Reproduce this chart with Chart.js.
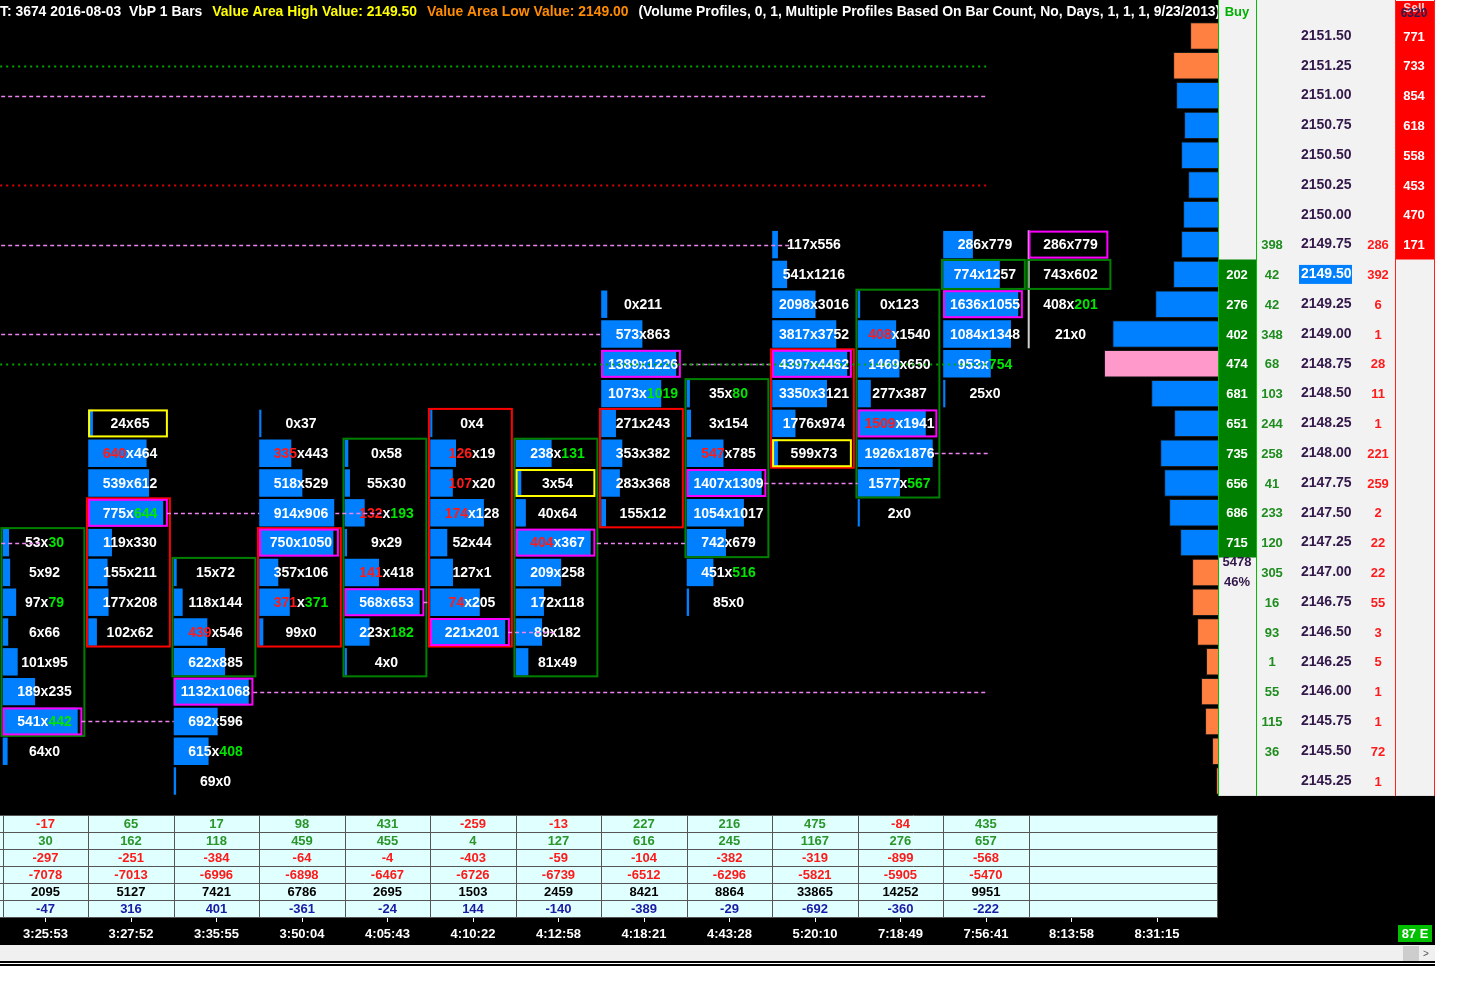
<!DOCTYPE html>
<html>
<head>
<meta charset="utf-8">
<title>VbP footprint</title>
<script src="https://cdn.jsdelivr.net/npm/chart.js@4.4.1/dist/chart.umd.min.js"></script>
<style>
  html, body { margin: 0; padding: 0; background: #fff; overflow: hidden; }
  #wrap { width: 1477px; height: 981px; }
</style>
</head>
<body>
<div id="wrap"><canvas id="fpChart" width="1477" height="981"></canvas></div>
<script>
const barTimes = ['3:25:53', '3:27:52', '3:35:55', '3:50:04', '4:05:43', '4:10:22', '4:12:58',
  '4:18:21', '4:43:28', '5:20:10', '7:18:49', '7:56:41', '8:13:58', '8:31:15'];

// footprint of each bar: highest traded price, then bid x ask per level going down
const barTop = [2147.25, 2148.25, 2147.00, 2148.25, 2148.00, 2148.25, 2148.00, 2149.25, 2148.50, 2149.75, 2149.25, 2149.75, 2149.75];
const barBids = [
  [53, 5, 97, 6, 101, 189, 541, 64],
  [24, 640, 539, 775, 119, 155, 177, 102],
  [15, 118, 439, 622, 1132, 692, 615, 69],
  [0, 335, 518, 914, 750, 357, 371, 99],
  [0, 55, 132, 9, 141, 568, 223, 4],
  [0, 126, 107, 174, 52, 127, 74, 221],
  [238, 3, 40, 404, 209, 172, 89, 81],
  [0, 573, 1389, 1073, 271, 353, 283, 155],
  [35, 3, 547, 1407, 1054, 742, 451, 85],
  [117, 541, 2098, 3817, 4397, 3350, 1776, 599],
  [0, 408, 1469, 277, 1509, 1926, 1577, 2],
  [286, 774, 1636, 1084, 953, 25],
  [286, 743, 408, 21]
];
const barAsks = [
  [30, 92, 79, 66, 95, 235, 442, 0],
  [65, 464, 612, 644, 330, 211, 208, 62],
  [72, 144, 546, 885, 1068, 596, 408, 0],
  [37, 443, 529, 906, 1050, 106, 371, 0],
  [58, 30, 193, 29, 418, 653, 182, 0],
  [4, 19, 20, 128, 44, 1, 205, 201],
  [131, 54, 64, 367, 258, 118, 182, 49],
  [211, 863, 1226, 1019, 243, 382, 368, 12],
  [80, 154, 785, 1309, 1017, 679, 516, 0],
  [556, 1216, 3016, 3752, 4462, 3121, 974, 73],
  [123, 1540, 650, 387, 1941, 1876, 567, 0],
  [779, 1257, 1055, 1348, 754, 0],
  [779, 602, 201, 0]
];
const bidImbalance = [[], [1], [2], [1, 6], [2, 4], [1, 2, 3, 6], [3], [], [2], [], [1, 4], [], []];
const askImbalance = [[0, 2, 6], [3], [6], [6], [2, 6], [], [0], [3], [0, 6], [], [6], [4], [2]];
const bodyRows = [[0, 6], [3, 7], [0, 3], [4, 7], [0, 7], [0, 7], [0, 7], [4, 7], [0, 5], [4, 7], [0, 6], [1, 1], [1, 1]];
const barUp = [true, false, true, false, true, false, true, false, true, false, true, true, true];
const pocRow = [6, 3, 4, 4, 5, 7, 3, 2, 3, 4, 4, 2, 0];
const markRow = [null, 0, null, null, null, null, 1, null, null, 7, null, null, null];

// naked POC lines (price, from bar, to bar)
const pocLinePrice = [2151.00, 2149.75, 2149.00, 2147.25, 2145.75, 2147.50, 2147.50, 2146.00, 2146.75, 2146.50, 2147.25, 2148.75, 2147.75, 2148.00];
const pocLineFrom = [-0.6, -0.6, -0.6, -0.6, 0.42, 1.42, 3.39, 2.43, 4.42, 5.41, 6.45, 7.45, 8.41, 10.4];
const pocLineTo = [11.02, 8.71, 6.52, -0.03, 1.5, 2.5, 3.95, 11.02, 4.5, 5.98, 7.5, 8.5, 9.5, 11.02];
const vaLinePrice = [2151.25, 2150.25, 2148.75];
const vaLineUp = [true, false, true];

// session volume profile
const profilePrices = [2151.50, 2151.25, 2151.00, 2150.75, 2150.50, 2150.25, 2150.00, 2149.75, 2149.50,
  2149.25, 2149.00, 2148.75, 2148.50, 2148.25, 2148.00, 2147.75, 2147.50, 2147.25, 2147.00, 2146.75,
  2146.50, 2146.25, 2146.00, 2145.75, 2145.50, 2145.25];
const profileVolume = [3750, 6030, 5630, 4560, 4960, 4020, 4690, 4960, 6030, 8440, 14200, 15320, 8980,
  5900, 7770, 7240, 6570, 5090, 3480, 3480, 2810, 1610, 2280, 1740, 800, 270];
const profileVA = [2147.25, 2151.00];
const profilePoc = 2148.75;

// ladder columns beside the prices (same rows as profilePrices)
const ladderBuy = [null, null, null, null, null, null, null, null, 202, 276, 402, 474, 681, 651, 735, 656, 686, 715,
  null, null, null, null, null, null, null, null];
const ladderAsk = [null, null, null, null, null, null, null, 398, 42, 42, 348, 68, 103, 244, 258, 41, 233, 120,
  305, 16, 93, 1, 55, 115, 36, null];
const ladderBid = [null, null, null, null, null, null, null, 286, 392, 6, 1, 28, 11, 1, 221, 259, 2, 22,
  22, 55, 3, 5, 1, 1, 72, 1];
const ladderSell = [771, 733, 854, 618, 558, 453, 470, 171, null, null, null, null, null, null, null, null, null, null,
  null, null, null, null, null, null, null, null];
const buyTotal = '5478';
const buyPct = '46%';
const sellTotal = '6320';
const lastPrice = 2149.50;

// statistics table under the bars
const deltaRow = [-17, 65, 17, 98, 431, -259, -13, 227, 216, 475, -84, 435];
const maxDeltaRow = [30, 162, 118, 459, 455, 4, 127, 616, 245, 1167, 276, 657];
const minDeltaRow = [-297, -251, -384, -64, -4, -403, -59, -104, -382, -319, -899, -568];
const cumDeltaRow = [-7078, -7013, -6996, -6898, -6467, -6726, -6739, -6512, -6296, -5821, -5905, -5470];
const volumeRow = [2095, 5127, 7421, 6786, 2695, 1503, 2459, 8421, 8864, 33865, 14252, 9951];
const deltaChangeRow = [-47, 316, 401, -361, -24, 144, -140, -389, -29, -692, -360, -222];

const titleParts = [
  ['T: 3674 2016-08-03  VbP 1 Bars', '#ffffff'],
  ['Value Area High Value: 2149.50', '#ffff00'],
  ['Value Area Low Value: 2149.00', '#ff8c00'],
  ['(Volume Profiles, 0, 1, Multiple Profiles Based On Bar Count, No, Days, 1, 1, 1, 9/23/2013)', '#ffffff']
];

const TICK = 0.25;
const FONT = '"Liberation Sans", Arial, sans-serif';
const CELL_MAX = 0.877;
const COLORS = {
  cell: '#0080ff', up: '#008000', down: '#ff0000', poc: '#ff00ff', mark: '#ffff00',
  text: '#ffffff', hiBid: '#ff1a1a', hiAsk: '#00e600',
  profileOut: '#ff8040', profilePoc: '#ff99cc',
  pocLine: '#ee82ee', vaUp: '#00a800', vaDown: '#e00000',
  panel: '#f2f2f2', price: '#33184a', buyFill: '#008000', sellFill: '#ff0000',
  askNum: '#1e8c1e', bidNum: '#ff1a1a', table: '#e0ffff', grid: '#555555'
};

function buildCellBars() {
  const data = [];
  // the last bar is still forming and gets no bars
  for (let i = 0; i < barBids.length - 1; i++) {
    const totals = barBids[i].map((b, j) => b + barAsks[i][j]);
    const most = Math.max(...totals);
    totals.forEach((t, j) => {
      const len = Math.max(t / most * CELL_MAX, 0.025);
      data.push({ y: barTop[i] - TICK * j, x: [i - 0.5, i - 0.5 + len] });
    });
  }
  return data;
}

function profileColors() {
  return profilePrices.map(p => {
    if (p === profilePoc) return COLORS.profilePoc;
    if (p < profileVA[0] || p > profileVA[1]) return COLORS.profileOut;
    return COLORS.cell;
  });
}

function drawBox(ctx, x, y, i, top, bot, x0, x1, pad, color) {
  const l = x.getPixelForValue(i + x0);
  const r = x.getPixelForValue(i + x1);
  const t = y.getPixelForValue(top + pad);
  const b = y.getPixelForValue(bot - pad);
  ctx.strokeStyle = color;
  ctx.lineWidth = 2;
  ctx.strokeRect(l, t, r - l, b - t);
}

function drawCellText(ctx, cx, cy, parts) {
  const w = parts.reduce((s, p) => s + ctx.measureText(p[0]).width, 0);
  let tx = cx - w / 2;
  parts.forEach(([t, col]) => {
    ctx.fillStyle = col;
    ctx.fillText(t, tx, cy);
    tx += ctx.measureText(t).width;
  });
}

function hLine(ctx, x, y, price, from, to, color, width, dash) {
  const py = Math.round(y.getPixelForValue(price)) + 0.5;
  ctx.strokeStyle = color;
  ctx.lineWidth = width;
  ctx.setLineDash(dash);
  ctx.beginPath();
  ctx.moveTo(x.getPixelForValue(from), py);
  ctx.lineTo(x.getPixelForValue(to), py);
  ctx.stroke();
}

const footprintPlugin = {
  id: 'footprint',
  beforeDraw(chart) {
    const { ctx, chartArea: a, scales: { y } } = chart;
    const half = (y.getPixelForValue(y.min) - y.getPixelForValue(y.min + TICK)) / 2;
    const sellL = a.right + 177, sellR = a.right + 216;
    const panelBottom = y.getPixelForValue(profilePrices[profilePrices.length - 1]) + half;
    ctx.save();
    ctx.fillStyle = '#ffffff';
    ctx.fillRect(0, 0, chart.width, chart.height);
    ctx.fillStyle = '#000000';
    ctx.fillRect(0, 0, sellR + 1, 945);
    ctx.fillStyle = COLORS.panel;
    ctx.fillRect(a.right, 0, sellR - a.right, panelBottom);

    // buy / sell shaded cells
    const buyRows = profilePrices.filter((p, k) => ladderBuy[k] !== null);
    ctx.fillStyle = COLORS.buyFill;
    ctx.fillRect(a.right + 1, y.getPixelForValue(buyRows[0]) - half, 37,
      y.getPixelForValue(buyRows[buyRows.length - 1]) - y.getPixelForValue(buyRows[0]) + 2 * half);
    const sellRows = profilePrices.filter((p, k) => ladderSell[k] !== null);
    ctx.fillStyle = COLORS.sellFill;
    ctx.fillRect(sellL, 1, sellR - sellL, y.getPixelForValue(sellRows[sellRows.length - 1]) + half - 1);

    // last price highlight
    const ly = y.getPixelForValue(lastPrice);
    ctx.fillStyle = COLORS.cell;
    ctx.fillRect(a.right + 81, ly - 9.5, 53, 19);

    ctx.strokeStyle = '#00c000';
    ctx.lineWidth = 1;
    [a.right + 0.5, a.right + 38.5].forEach(lx => {
      ctx.beginPath(); ctx.moveTo(lx, 0); ctx.lineTo(lx, panelBottom); ctx.stroke();
    });
    ctx.strokeStyle = '#ff2020';
    [sellL + 0.5, sellR + 0.5].forEach(lx => {
      ctx.beginPath(); ctx.moveTo(lx, 0); ctx.lineTo(lx, panelBottom); ctx.stroke();
    });

    ctx.fillStyle = COLORS.table;
    ctx.fillRect(0, a.bottom, a.right, 102);
    ctx.restore();
  },
  afterDatasetsDraw(chart) {
    const { ctx, chartArea: a, scales: { x, y } } = chart;
    const last = barBids.length - 1;
    ctx.save();

    // forming bar: thin marker instead of volume bars
    ctx.strokeStyle = '#d0d0d0';
    ctx.lineWidth = 2;
    ctx.beginPath();
    ctx.moveTo(x.getPixelForValue(last - 0.5), y.getPixelForValue(barTop[last] + 0.12));
    ctx.lineTo(x.getPixelForValue(last - 0.5), y.getPixelForValue(barTop[last] - TICK * (barBids[last].length - 1) - 0.12));
    ctx.stroke();

    barBids.forEach((bids, i) => {
      const [r0, r1] = bodyRows[i];
      drawBox(ctx, x, y, i, barTop[i] - TICK * r0, barTop[i] - TICK * r1, -0.515, 0.455, 0.1217,
        barUp[i] ? COLORS.up : COLORS.down);
      const pp = barTop[i] - TICK * pocRow[i];
      drawBox(ctx, x, y, i, pp, pp, -0.49, 0.42, 0.109, COLORS.poc);
      if (markRow[i] !== null) {
        const mp = barTop[i] - TICK * markRow[i];
        drawBox(ctx, x, y, i, mp, mp, -0.49, 0.42, 0.109, COLORS.mark);
      }
    });

    ctx.font = `bold 14px ${FONT}`;
    ctx.textBaseline = 'middle';
    ctx.textAlign = 'left';
    barBids.forEach((bids, i) => {
      const cx = x.getPixelForValue(i) - 1;
      bids.forEach((bid, j) => {
        const cy = y.getPixelForValue(barTop[i] - TICK * j) + 1;
        const ask = barAsks[i][j];
        drawCellText(ctx, cx, cy, [
          [String(bid), bidImbalance[i].includes(j) ? COLORS.hiBid : COLORS.text],
          ['x', COLORS.text],
          [String(ask), askImbalance[i].includes(j) ? COLORS.hiAsk : COLORS.text]
        ]);
      });
    });

    // level lines on top, clipped to the plot
    ctx.save();
    ctx.beginPath();
    ctx.rect(a.left, a.top, a.right - a.left, a.bottom - a.top);
    ctx.clip();
    pocLinePrice.forEach((p, k) => hLine(ctx, x, y, p, pocLineFrom[k], pocLineTo[k], COLORS.pocLine, 1.5, [4, 3]));
    vaLinePrice.forEach((p, k) => hLine(ctx, x, y, p, -0.6, 11.02, vaLineUp[k] ? COLORS.vaUp : COLORS.vaDown, 2, [2, 4]));
    ctx.restore();
    ctx.setLineDash([]);

    // title
    ctx.save();
    ctx.beginPath();
    ctx.rect(0, 0, a.right, 24);
    ctx.clip();
    ctx.font = `bold 13.9px ${FONT}`;
    ctx.textAlign = 'left';
    let tx = 0;
    titleParts.forEach(([t, col]) => {
      ctx.fillStyle = col;
      ctx.fillText(t, tx, 12);
      tx += ctx.measureText(t).width + 10;
    });
    ctx.restore();

    // ladder numbers
    ctx.font = `bold 13px ${FONT}`;
    ctx.textAlign = 'center';
    profilePrices.forEach((p, k) => {
      const cy = y.getPixelForValue(p) + 1;
      if (ladderBuy[k] !== null) { ctx.fillStyle = '#ffffff'; ctx.fillText(String(ladderBuy[k]), a.right + 19, cy); }
      if (ladderAsk[k] !== null) { ctx.fillStyle = COLORS.askNum; ctx.fillText(String(ladderAsk[k]), a.right + 54, cy); }
      if (ladderBid[k] !== null) { ctx.fillStyle = COLORS.bidNum; ctx.fillText(String(ladderBid[k]), a.right + 160, cy); }
      if (ladderSell[k] !== null) { ctx.fillStyle = '#ffffff'; ctx.fillText(String(ladderSell[k]), a.right + 196, cy); }
    });
    const lastBuy = profilePrices.filter((p, k) => ladderBuy[k] !== null).pop();
    ctx.fillStyle = COLORS.price;
    ctx.fillText(buyTotal, a.right + 19, y.getPixelForValue(lastBuy) + 20);
    ctx.fillText(buyPct, a.right + 19, y.getPixelForValue(lastBuy) + 40);
    ctx.fillStyle = '#00b000';
    ctx.fillText('Buy', a.right + 19, 12);
    ctx.font = `bold 12px ${FONT}`;
    ctx.fillStyle = '#ffd0d0';
    ctx.fillText('Sell', a.right + 196, 9);
    ctx.fillStyle = '#2a1a50';
    ctx.fillText(sellTotal, a.right + 196, 14);

    // statistics table
    const rows = [deltaRow, maxDeltaRow, minDeltaRow, cumDeltaRow, volumeRow, deltaChangeRow];
    const rowH = 17;
    ctx.strokeStyle = COLORS.grid;
    ctx.lineWidth = 1;
    for (let r = 0; r <= rows.length; r++) {
      const ly = a.bottom + r * rowH + 0.5;
      ctx.beginPath(); ctx.moveTo(0, ly); ctx.lineTo(a.right, ly); ctx.stroke();
    }
    for (let i = 0; i <= barBids.length; i++) {
      const lx = i < barBids.length ? Math.round(x.getPixelForValue(i - 0.5)) + 0.5 : a.right - 0.5;
      ctx.beginPath(); ctx.moveTo(lx, a.bottom); ctx.lineTo(lx, a.bottom + rows.length * rowH); ctx.stroke();
    }
    ctx.font = `bold 13px ${FONT}`;
    rows.forEach((vals, r) => {
      vals.forEach((v, i) => {
        let col = v < 0 ? '#ff1a1a' : '#2a962a';
        if (r === 4) col = '#000000';
        if (r === 5) col = '#1a1aa6';
        ctx.fillStyle = col;
        ctx.fillText(String(v), x.getPixelForValue(i), a.bottom + r * rowH + rowH / 2 + 1);
      });
    });

    // time axis tick marks
    ctx.strokeStyle = '#ffffff';
    barTimes.forEach((t, i) => {
      const lx = Math.round(x.getPixelForValue(i)) + 0.5;
      ctx.beginPath(); ctx.moveTo(lx, 918); ctx.lineTo(lx, 922); ctx.stroke();
    });

    // status box, scroll bar, frame
    const sellL = a.right + 177, sellR = a.right + 216;
    ctx.fillStyle = '#00c000';
    ctx.fillRect(sellL + 3, 925, sellR - sellL - 5, 17);
    ctx.fillStyle = '#ffffff';
    ctx.fillText('87 E', sellL + 20, 934);
    ctx.fillStyle = '#f0f0f0';
    ctx.fillRect(0, 945, sellR + 1, 17);
    ctx.fillStyle = '#cdcdcd';
    ctx.fillRect(sellL + 8, 946, 16, 15);
    ctx.fillStyle = '#555555';
    ctx.font = `10px ${FONT}`;
    ctx.fillText('>', sellL + 31, 954);
    ctx.fillStyle = '#000000';
    ctx.fillRect(0, 961, sellR + 1, 2);
    ctx.fillRect(0, 964, sellR + 1, 2);
    ctx.restore();
  }
};

// the big tick paddings only move the labels, so drop the side padding they ask for
function fixXAxis(s) {
  s.height = 166;
  s.paddingLeft = 0;
  s.paddingRight = 0;
}
function fixYAxis(s) {
  s.width = 259;
  s.paddingTop = 0;
  s.paddingBottom = 0;
}

new Chart(document.getElementById('fpChart'), {
  type: 'bar',
  data: {
    datasets: [
      {
        label: 'cells',
        data: buildCellBars(),
        xAxisID: 'x',
        yAxisID: 'y',
        backgroundColor: COLORS.cell,
        borderWidth: 0,
        grouped: false,
        categoryPercentage: 1,
        barPercentage: 0.92
      },
      {
        label: 'profile',
        data: profilePrices.map((p, k) => ({ y: p, x: profileVolume[k] })),
        xAxisID: 'xp',
        yAxisID: 'y',
        backgroundColor: profileColors(),
        borderColor: '#1a1a1a',
        borderWidth: 1,
        grouped: false,
        categoryPercentage: 1,
        barPercentage: 0.92
      }
    ]
  },
  options: {
    indexAxis: 'y',
    responsive: false,
    animation: false,
    devicePixelRatio: 1,
    layout: { padding: 0 },
    plugins: { legend: { display: false }, tooltip: { enabled: false }, title: { display: false } },
    scales: {
      x: {
        type: 'linear',
        position: 'bottom',
        min: -0.532,
        max: 13.714,
        grid: { display: false, drawTicks: false },
        border: { display: false },
        ticks: {
          stepSize: 1,
          includeBounds: false,
          autoSkip: false,
          maxRotation: 0,
          padding: 112,
          color: '#ffffff',
          font: { family: FONT, size: 13, weight: 'bold' },
          callback: v => barTimes[v] ?? ''
        },
        afterFit: fixXAxis
      },
      xp: {
        type: 'linear',
        position: 'top',
        display: false,
        reverse: true,
        min: 0,
        max: 163700
      },
      y: {
        type: 'linear',
        position: 'right',
        offset: false,
        min: 2144.965,
        max: 2151.802,
        grid: { display: false, drawTicks: false },
        border: { display: false },
        ticks: {
          stepSize: TICK,
          includeBounds: false,
          autoSkip: false,
          padding: 83,
          crossAlign: 'near',
          font: { family: FONT, size: 14, weight: 'bold' },
          color: c => (c.tick && c.tick.value === lastPrice ? '#ffffff' : COLORS.price),
          callback: v => (v >= profilePrices[profilePrices.length - 1] - 1e-6 && v <= profilePrices[0] + 1e-6 ? v.toFixed(2) : '')
        },
        afterFit: fixYAxis
      }
    }
  },
  plugins: [footprintPlugin]
});
</script>
</body>
</html>
